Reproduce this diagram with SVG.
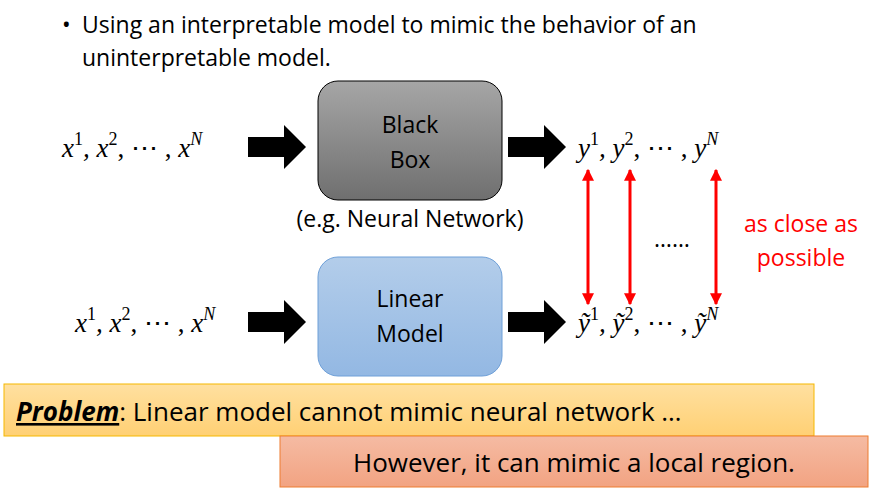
<svg xmlns="http://www.w3.org/2000/svg" width="876" height="499" viewBox="0 0 876 499">
<defs>
<linearGradient id="gBlack" x1="0" y1="0" x2="0" y2="1"><stop offset="0" stop-color="#a6a6a6"/><stop offset="1" stop-color="#6f6f6f"/></linearGradient>
<linearGradient id="gBlue" x1="0" y1="0" x2="0" y2="1"><stop offset="0" stop-color="#b3cdea"/><stop offset="1" stop-color="#93b8e3"/></linearGradient>
<linearGradient id="gYel" x1="0" y1="0" x2="0" y2="1"><stop offset="0" stop-color="#ffe0a0"/><stop offset="1" stop-color="#ffd074"/></linearGradient>
<linearGradient id="gOr" x1="0" y1="0" x2="0" y2="1"><stop offset="0" stop-color="#f5bba3"/><stop offset="1" stop-color="#f2a382"/></linearGradient>
<marker id="rh" viewBox="0 0 10 10" refX="9" refY="5" markerWidth="4" markerHeight="4" orient="auto-start-reverse"><path d="M0,0L10,5L0,10z" fill="#ff0000"/></marker>
<path id="blk" d="M0,-10H36V-22L58,0L36,22V10H0Z" fill="#000"/>
</defs>
<style>
.t{font-family:"Open Sans","Liberation Sans",sans-serif;fill:#000}
.m{font-family:"Liberation Serif",serif;font-style:italic;font-size:27px}
.r{stroke:#ff0000;stroke-width:3;marker-start:url(#rh);marker-end:url(#rh)}
</style>
<text class="t" x="62" y="33" font-size="23">•</text>
<text class="t" x="82" y="33" font-size="23">Using an interpretable model to mimic the behavior of an</text>
<text class="t" x="82" y="66" font-size="23">uninterpretable model.</text>
<g id="inputTop"><text class="m" x="62" y="157">x<tspan dy="-12" font-size="18" font-style="normal">1</tspan><tspan dy="12">, x</tspan><tspan dy="-12" font-size="18" font-style="normal">2</tspan><tspan dy="12" font-style="normal">, ⋯ , </tspan><tspan>x</tspan><tspan dy="-12" font-size="18">N</tspan></text></g>
<g id="inputBot"><text class="m" x="75" y="332">x<tspan dy="-12" font-size="18" font-style="normal">1</tspan><tspan dy="12">, x</tspan><tspan dy="-12" font-size="18" font-style="normal">2</tspan><tspan dy="12" font-style="normal">, ⋯ , </tspan><tspan>x</tspan><tspan dy="-12" font-size="18">N</tspan></text></g>
<g id="blackBox"><rect x="318" y="81" width="184" height="119" rx="20" fill="url(#gBlack)" stroke="#000" stroke-width="1"/>
<text class="t" x="410" y="133" font-size="23" text-anchor="middle">Black</text>
<text class="t" x="410" y="168" font-size="23" text-anchor="middle">Box</text>
<text class="t" x="410" y="227" font-size="23" text-anchor="middle">(e.g. Neural Network)</text></g>
<g id="linearModel"><rect x="318" y="257" width="184" height="119" rx="20" fill="url(#gBlue)" stroke="#6fa0d8" stroke-width="1"/>
<text class="t" x="410" y="307" font-size="23" text-anchor="middle">Linear</text>
<text class="t" x="410" y="342" font-size="23" text-anchor="middle">Model</text></g>
<g id="outputTop"><text class="m" x="578" y="157">y<tspan dy="-12" font-size="18" font-style="normal">1</tspan><tspan dy="12">, y</tspan><tspan dy="-12" font-size="18" font-style="normal">2</tspan><tspan dy="12" font-style="normal">, ⋯ , </tspan><tspan>y</tspan><tspan dy="-12" font-size="18">N</tspan></text></g>
<g id="outputBot"><text class="m" x="578" y="332">ỹ<tspan dy="-12" font-size="18" font-style="normal">1</tspan><tspan dy="12">, ỹ</tspan><tspan dy="-12" font-size="18" font-style="normal">2</tspan><tspan dy="12" font-style="normal">, ⋯ , </tspan><tspan>ỹ</tspan><tspan dy="-12" font-size="18">N</tspan></text></g>
<g id="connectors">
<use href="#blk" x="248" y="147"/>
<use href="#blk" x="508" y="147"/>
<use href="#blk" x="248" y="322"/>
<use href="#blk" x="508" y="322"/>
<line class="r" x1="588" y1="170" x2="588" y2="304"/>
<line class="r" x1="630" y1="170" x2="630" y2="304"/>
<line class="r" x1="716" y1="170" x2="716" y2="304"/>
</g>
<text class="t" x="672" y="247" font-size="23" text-anchor="middle">……</text>
<text class="t" x="801" y="232" font-size="23" fill="#ff0000" style="fill:#ff0000" text-anchor="middle">as close as</text>
<text class="t" x="801" y="266" font-size="23" style="fill:#ff0000" text-anchor="middle">possible</text>
<g id="problem"><rect x="4" y="384" width="810" height="52" fill="url(#gYel)" stroke="#f5b800" stroke-width="1"/>
<text class="t" x="16" y="421" font-size="26"><tspan font-weight="bold" font-style="italic" text-decoration="underline">Problem</tspan>: Linear model cannot mimic neural network …</text></g>
<g id="however"><rect x="280" y="436" width="588" height="51" fill="url(#gOr)" stroke="#ed7d31" stroke-width="1"/>
<text class="t" x="574" y="472" font-size="26" text-anchor="middle">However, it can mimic a local region.</text></g>
</svg>
